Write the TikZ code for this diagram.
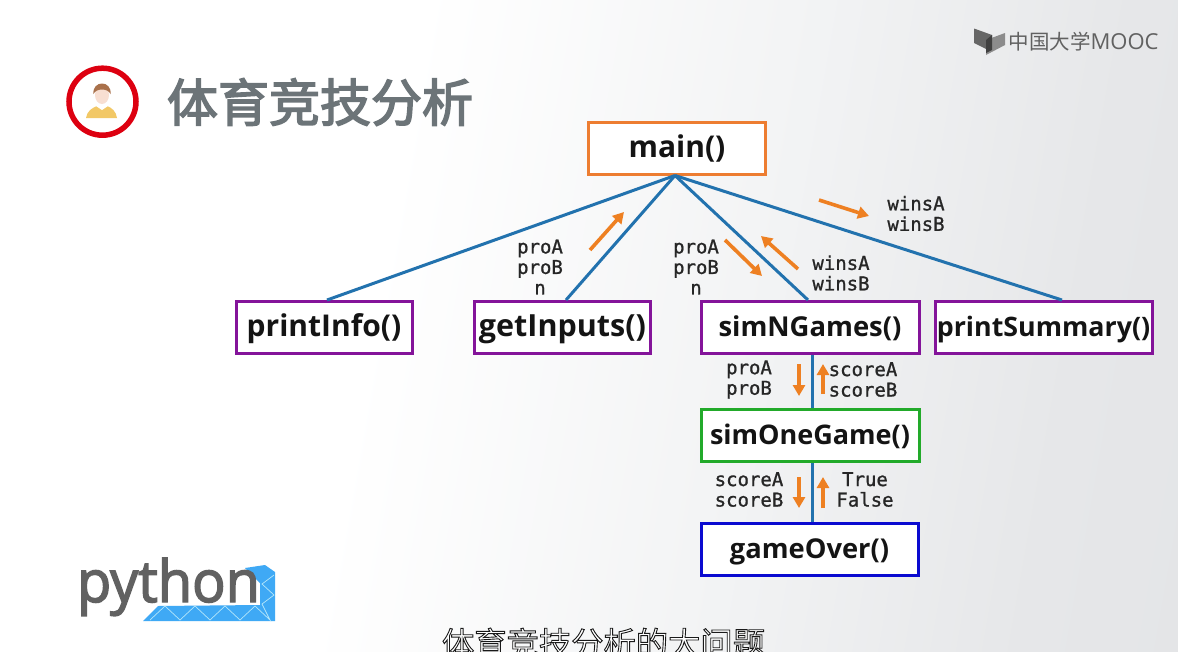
\documentclass[tikz,border=0pt]{standalone}
\usepackage{fontspec}
\setmainfont{Open Sans}
\newfontfamily\cjkfont{Noto Sans CJK SC}
\newfontfamily\titlefam[FakeBold=3]{Noto Sans CJK SC}
\newfontfamily\monofam[FakeBold=1]{DejaVu Sans Mono}
\newfontfamily\boxfam{Open Sans}
\newfontfamily\pyfam[FakeBold=2.5]{Open Sans}
\usetikzlibrary{arrows.meta}
\definecolor{cOrange}{HTML}{ED7D31}
\definecolor{cPurple}{HTML}{84149A}
\definecolor{cGreen}{HTML}{22AA2A}
\definecolor{cBlue}{HTML}{0A0AD0}
\definecolor{cLink}{HTML}{2272AE}
\definecolor{cArrow}{HTML}{EE8022}
\definecolor{cTitle}{HTML}{6C7478}
\definecolor{bgA}{HTML}{F2F3F4}
\definecolor{bgB}{HTML}{E6E7E9}
\definecolor{bgC}{HTML}{DEE0E2}
\definecolor{cSweater}{HTML}{F2C866}
\definecolor{cHair}{HTML}{A9714B}
\definecolor{cFace}{HTML}{F8DFD2}
\definecolor{cRing}{HTML}{DD0010}
\definecolor{cPyBlue}{HTML}{3FA9F5}
\pgfdeclarehorizontalshading{bgshade}{100bp}{
  color(0bp)=(white); color(40bp)=(white); color(58bp)=(bgA); color(72bp)=(bgB); color(100bp)=(bgC)}
\tikzset{
  fn/.style n args={2}{draw=#1,line width=3pt,fill=white,minimum width=176pt,minimum height=52pt,
    inner sep=0pt,text height=24pt,text depth=6pt,
    font=\boxfam\bfseries\fontsize{#2}{30}\selectfont,text=black!92},
  link/.style={draw=cLink,line width=3pt},
  flow/.style={draw=cArrow,line width=3.6pt,-{Triangle[length=11pt,width=12pt]}},
  lbl/.style={font=\monofam\fontsize{19}{20.5}\selectfont,align=center,text=black!85,inner sep=0pt},
}
\begin{document}
\begin{tikzpicture}[x=1pt,y=-1pt]
\useasboundingbox (0,0) rectangle (1178,651);
\shade[shading=bgshade,shading angle=-10] (0,0) rectangle (1178,651);

% header icon
\fill[cSweater] (86,118) .. controls (87,111) and (92,108) .. (97,106) -- (107,106) .. controls (112,108) and (116,111) .. (117,118) -- cycle;
\fill[white] (96,106) -- (102,110) -- (108,106) -- (102,103) -- cycle;
\fill[cFace] (102,95) ellipse (7 and 9);
\fill[cHair] (93.5,94) .. controls (92,80) and (112,80) .. (110.5,94) .. controls (108,88) and (96,88) .. (93.5,94) -- cycle;
\draw[draw=cRing,line width=5.5pt] (102.5,101.7) circle (33.5);

\node[inner sep=0pt,text=cTitle] (title) at (320,102) {\titlefam\fontsize{51}{51}\selectfont 体育竞技分析};

% MOOC logo
\fill[black!60] (974,28.5) -- (992,35) -- (992,52) -- (974,43) -- cycle;
\fill[black!45] (1005,33) -- (1005,45) -- (986,55) -- (986,40) -- cycle;
\fill[black!75] (992,35) -- (992,50) -- (986,53) -- (986,40) -- cycle;
\node[inner sep=0pt,text=black!62] (mooc) at (1083.5,42) {\cjkfont\fontsize{20.5}{22}\selectfont 中国大学\boxfam\fontsize{22}{22}\selectfont MOOC};

% python logo
\fill[cPyBlue] (143,621) -- (275,621) -- (275,572) -- (265,565) -- (245,568) -- (260,583) -- (260,605) -- (158,606) -- cycle;
\draw[white!70!cyan,line width=.7pt] (150,620) -- (165,606) -- (180,620) -- (195,606) -- (210,620) -- (225,606) -- (240,620) -- (255,606) -- (270,620) -- (262,604) -- (274,595) -- (262,584) -- (274,575);
\node[inner sep=0pt,text=black!62,text height=44pt,text depth=16pt,xscale=.96] (py) at (168.5,588) {\pyfam\fontsize{58}{58}\selectfont python};

% boxes
\node[fn={cOrange}{30},minimum width=177pt] (main) at (677,148) {main()};
\node[fn={cPurple}{30}] (printInfo) at (324,327.5) {printInfo()};
\node[fn={cPurple}{30.5}] (getInputs) at (562.5,327.5) {getInputs()};
\node[fn={cPurple}{27.4},minimum width=218pt] (simN) at (810,327.5) {simNGames()};
\node[fn={cPurple}{26.8},minimum width=217pt] (printSummary) at (1043.5,327.5) {printSummary()};
\node[fn={cGreen}{27},minimum width=218pt] (simOne) at (810,435.5) {simOneGame()};
\node[fn={cBlue}{27.3},minimum width=217pt] (gameOver) at (809.5,549) {gameOver()};

% connectors
\coordinate (apex) at ([xshift=-2pt]main.south);
\draw[link] (apex) -- ([xshift=3pt]printInfo.north);
\draw[link] (apex) -- ([xshift=3.5pt]getInputs.north);
\draw[link] (apex) -- ([xshift=-2pt]simN.north);
\draw[link] (apex) -- ([xshift=18.5pt]printSummary.north);
\draw[link] ([xshift=2pt]simN.south) -- ([xshift=2pt]simOne.north);
\draw[link] ([xshift=2pt]simOne.south) -- ([xshift=2.5pt]gameOver.north);

% data-flow arrows
\coordinate (a1s) at (590,250); \coordinate (a1e) at (624,212);
\coordinate (a2s) at (725,240); \coordinate (a2e) at (762,276);
\coordinate (a3s) at (798,269); \coordinate (a3e) at (761,236);
\coordinate (a4s) at (819,200); \coordinate (a4e) at (869,216);
\coordinate (a5s) at (799,364); \coordinate (a5e) at (799,396);
\coordinate (a6s) at (823,394); \coordinate (a6e) at (823,364);
\coordinate (a7s) at (799,477); \coordinate (a7e) at (799,508);
\coordinate (a8s) at (823,508); \coordinate (a8e) at (823,477);
\foreach \k in {1,...,8} {\draw[flow] (a\k s) -- (a\k e);}

% labels
\node[lbl] (l1) at (540,267) {proA\\proB\\n};
\node[lbl] (l2) at (696,267) {proA\\proB\\n};
\node[lbl] (l3) at (841,273) {winsA\\winsB};
\node[lbl] (l4) at (916,213.5) {winsA\\winsB};
\node[lbl] (l5) at (749,379.5) {proA\\proB};
\node[lbl] (l6) at (863,379.5) {scoreA\\scoreB};
\node[lbl] (l7) at (749,489.5) {scoreA\\scoreB};
\node[lbl] (l8) at (865,489.5) {True\\False};

% subtitle
\node[inner sep=0pt,text=white] (sub) at (603.5,643) {\special{pdf:code 2 Tr 0.9 w 0.1 0.1 0.1 RG}\cjkfont\fontsize{32.3}{34}\selectfont 体育竞技分析的大问题\special{pdf:code 0 Tr}};
\end{tikzpicture}
\end{document}
